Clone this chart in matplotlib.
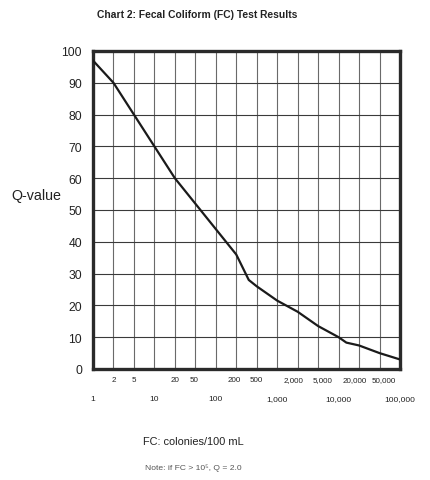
import numpy as np
import matplotlib
matplotlib.use("Agg")
import matplotlib.pyplot as plt
from matplotlib.transforms import ScaledTranslation

# Q-value curve
fc_values = [1, 2, 5, 10, 20, 50, 100, 200, 350, 500, 1000, 2000, 5000,
             10000, 13000, 20000, 50000, 100000]
q_values = [97, 90, 80, 70, 60, 52, 44, 36, 28, 26, 21.5, 18, 13.5,
            10, 8.3, 7.4, 5, 3]

# x axis: 1-2-5 steps drawn at equal spacing
grid_steps = [1, 2, 5, 10, 20, 50, 100, 200, 500, 1000, 2000, 5000,
              10000, 20000, 50000, 100000]
major_ticks = [1, 10, 100, 1000, 10000, 100000]
major_labels = ["1", "10", "100", "1,000", "10,000", "100,000"]
minor_ticks = [2, 5, 20, 50, 200, 500, 2000, 5000, 20000, 50000]
minor_labels = ["2", "5", "20", "50", "200", "500", "2,000", "5,000",
                "20,000", "50,000"]
y_ticks = list(range(0, 101, 10))

step_logs = np.log10(grid_steps)
step_idx = np.arange(len(grid_steps), dtype=float)


def forward(x):
    x = np.clip(np.asarray(x, dtype=float), 1e-12, None)
    return np.interp(np.log10(x), step_logs, step_idx)


def inverse(i):
    return 10 ** np.interp(np.asarray(i, dtype=float), step_idx, step_logs)


plt.rcParams["font.family"] = ["Liberation Sans", "DejaVu Sans"]

fig = plt.figure(figsize=(4.3, 4.81), dpi=100)
ax = fig.add_axes([93 / 430, 1 - 370 / 481, 307 / 430, 318 / 481])
ax.set_xscale("function", functions=(forward, inverse))
ax.set_xlim(1, 100000)
ax.set_ylim(0, 100)

ax.plot(fc_values, q_values, color="#1a1a1a", lw=1.6, zorder=3)

# grid
for s in grid_steps[1:-1]:
    ax.axvline(s, color="#6a6a6a", lw=0.8, zorder=1)
for y in y_ticks[1:-1]:
    ax.axhline(y, color="#3a3a3a", lw=0.8, zorder=1)

ax.set_yticks(y_ticks)
ax.set_yticklabels([str(v) for v in y_ticks], fontsize=8.7, color="#222")
ax.tick_params(axis="y", length=0, pad=8)

ax.set_xticks(major_ticks)
ax.set_xticklabels(major_labels, fontsize=6, color="#222")
ax.set_xticks(minor_ticks, minor=True)
ax.set_xticklabels(minor_labels, minor=True, fontsize=5.8, color="#222")
ax.tick_params(axis="x", which="major", length=0, pad=19)
ax.tick_params(axis="x", which="minor", length=0, pad=5)

# the printed labels of each 2/5 pair sit a little apart
nudge_px = [0, 0, 0, -1.5, -2.5, 0, -4, 4, -4, 4.5]
for lab, dx in zip(ax.get_xticklabels(minor=True), nudge_px):
    lab.set_transform(lab.get_transform()
                      + ScaledTranslation(dx / 100, 0, fig.dpi_scale_trans))

for sp in ax.spines.values():
    sp.set_linewidth(2.4)
    sp.set_color("#2a2a2a")

fig.text(197 / 430, 1 - 15 / 481, "Chart 2: Fecal Coliform (FC) Test Results",
         ha="center", va="center", fontsize=7.4, fontweight="bold", color="#222")
fig.text(36 / 430, 1 - 196 / 481, "Q-value", ha="center", va="center",
         fontsize=10.3, color="#222")
fig.text(193 / 430, 1 - 442 / 481, "FC: colonies/100 mL", ha="center",
         va="center", fontsize=7.9, color="#222")
fig.text(193 / 430, 1 - 468 / 481, "Note: if FC > 10\u2075, Q = 2.0",
         ha="center", va="center", fontsize=6.1, color="#555")

fig.savefig("out.png", dpi=100)
